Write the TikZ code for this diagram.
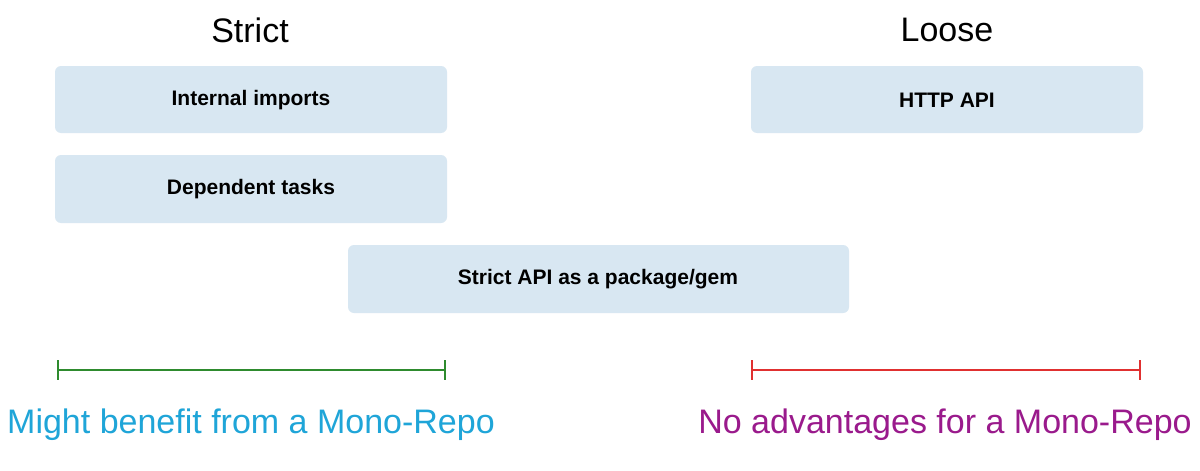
\documentclass[tikz,border=0pt]{standalone}
\usepackage{fontspec}
\setmainfont{Liberation Sans}
\begin{document}
\begin{tikzpicture}[x=1pt,y=-1pt,
  box/.style={fill=boxc,rounded corners=6pt,draw=none},
  lbl/.style={font=\bfseries\fontsize{21}{24}\selectfont},
  ttl/.style={font=\fontsize{34}{38}\selectfont},
  btm/.style={font=\fontsize{34}{38}\selectfont},
  bar/.style={line width=2.6pt}]
\definecolor{boxc}{HTML}{D8E7F2}
\definecolor{gr}{HTML}{2E8B2E}
\definecolor{rd}{HTML}{E03030}
\definecolor{cy}{HTML}{1FA5D8}
\definecolor{pu}{HTML}{9A1A8C}
\useasboundingbox (0,0) rectangle (1200,471);
\fill[white] (0,0) rectangle (1200,471);
\node[ttl] (strict) at (250,30) {Strict};
\node[ttl] (loose) at (947,30) {Loose};
\fill[box] (55,66) rectangle (447,133);
\node[lbl] (ii) at (251,100) {Internal imports};
\fill[box] (55,155) rectangle (447,223);
\node[lbl] (dt) at (251,189) {Dependent tasks};
\fill[box] (751,66) rectangle (1143,133);
\node[lbl] (http) at (947,100) {HTTP API};
\fill[box] (348,245) rectangle (849,313);
\node[lbl] (sa) at (598,279) {Strict API as a package/gem};
\coordinate (g1) at (58,370); \coordinate (g2) at (445,370);
\draw[bar,gr] (g1) -- (g2);
\draw[bar,gr] (58,360) -- (58,380) (445,360) -- (445,380);
\coordinate (r1) at (752,370); \coordinate (r2) at (1140,370);
\draw[bar,rd] (r1) -- (r2);
\draw[bar,rd] (752,360) -- (752,380) (1140,360) -- (1140,380);
\node[btm,text=cy] (mb) at (251,425) {Might benefit from a Mono-Repo};
\node[btm,text=pu] (na) at (945,425) {No advantages for a Mono-Repo};
\end{tikzpicture}
\end{document}
